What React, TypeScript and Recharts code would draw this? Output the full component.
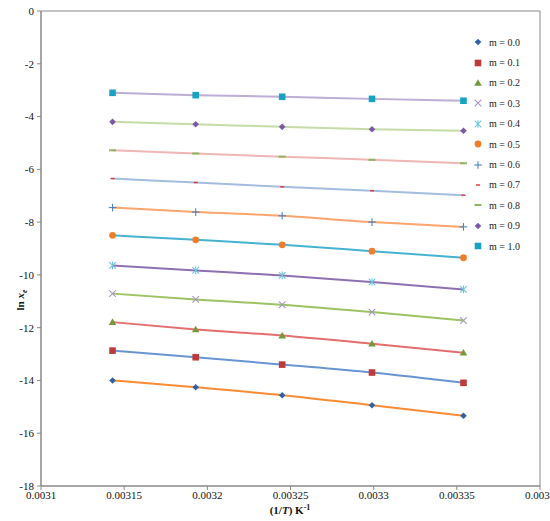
import React from "react";
import {
  LineChart,
  Line,
  XAxis,
  YAxis,
  ReferenceArea,
} from "recharts";

// 1/T values (K^-1) for 318.15 ... 298.15 K
const invT = [0.003143, 0.003193, 0.003245, 0.003299, 0.003354];

const m00 = [-14.0, -14.26, -14.56, -14.94, -15.34];
const m01 = [-12.87, -13.12, -13.4, -13.7, -14.09];
const m02 = [-11.79, -12.07, -12.3, -12.61, -12.95];
const m03 = [-10.71, -10.93, -11.13, -11.41, -11.73];
const m04 = [-9.64, -9.83, -10.02, -10.27, -10.55];
const m05 = [-8.5, -8.67, -8.86, -9.1, -9.35];
const m06 = [-7.45, -7.62, -7.76, -8.0, -8.18];
const m07 = [-6.35, -6.5, -6.66, -6.81, -6.98];
const m08 = [-5.28, -5.4, -5.52, -5.64, -5.77];
const m09 = [-4.2, -4.29, -4.39, -4.48, -4.54];
const m10 = [-3.1, -3.19, -3.25, -3.33, -3.4];

const seriesNames = [
  "m = 0.0",
  "m = 0.1",
  "m = 0.2",
  "m = 0.3",
  "m = 0.4",
  "m = 0.5",
  "m = 0.6",
  "m = 0.7",
  "m = 0.8",
  "m = 0.9",
  "m = 1.0",
];
const seriesValues = [m00, m01, m02, m03, m04, m05, m06, m07, m08, m09, m10];

const xTicks = [0.0031, 0.00315, 0.0032, 0.00325, 0.0033, 0.00335, 0.0034];
const yTicks = [-18, -16, -14, -12, -10, -8, -6, -4, -2, 0];

type Shape =
  | "diamond"
  | "square"
  | "triangle"
  | "x"
  | "asterisk"
  | "circle"
  | "plus"
  | "dashShort"
  | "dashLong";

const STYLES: { shape: Shape; marker: string; line: string }[] = [
  { shape: "diamond", marker: "#2f62a3", line: "#f88b33" },
  { shape: "square", marker: "#be3b3b", line: "#6895d0" },
  { shape: "triangle", marker: "#77983a", line: "#e46e6e" },
  { shape: "x", marker: "#a797c4", line: "#9cc261" },
  { shape: "asterisk", marker: "#6cc6db", line: "#8d70b2" },
  { shape: "circle", marker: "#ef7d2c", line: "#45b3cf" },
  { shape: "plus", marker: "#4f83c4", line: "#fba46b" },
  { shape: "dashShort", marker: "#e03c3c", line: "#a3bde0" },
  { shape: "dashLong", marker: "#8fb55a", line: "#efb6b6" },
  { shape: "diamond", marker: "#7a58a6", line: "#c6dca6" },
  { shape: "square", marker: "#17a3c2", line: "#bcaed4" },
];

const rows = invT.map((x, i) => {
  const row: Record<string, number> = { x };
  seriesValues.forEach((vals, s) => {
    row["s" + s] = vals[i];
  });
  return row;
});

const FONT = "'Liberation Serif', 'Times New Roman', serif";
const AXIS = "#888888";

function Marker({
  shape,
  color,
  cx,
  cy,
}: {
  shape: Shape;
  color: string;
  cx: number;
  cy: number;
}) {
  switch (shape) {
    case "diamond":
      return (
        <path
          d={`M${cx},${cy - 3.3}L${cx + 3.3},${cy}L${cx},${cy + 3.3}L${cx - 3.3},${cy}Z`}
          fill={color}
        />
      );
    case "square":
      return <rect x={cx - 3.3} y={cy - 3.3} width={6.6} height={6.6} fill={color} />;
    case "triangle":
      return (
        <path
          d={`M${cx},${cy - 3.8}L${cx + 3.8},${cy + 2.8}L${cx - 3.8},${cy + 2.8}Z`}
          fill={color}
        />
      );
    case "x":
      return (
        <g stroke={color} strokeWidth={1.1}>
          <line x1={cx - 3.3} y1={cy - 3.3} x2={cx + 3.3} y2={cy + 3.3} />
          <line x1={cx - 3.3} y1={cy + 3.3} x2={cx + 3.3} y2={cy - 3.3} />
        </g>
      );
    case "asterisk":
      return (
        <g stroke={color} strokeWidth={1.1}>
          <line x1={cx - 3.3} y1={cy - 3.3} x2={cx + 3.3} y2={cy + 3.3} />
          <line x1={cx - 3.3} y1={cy + 3.3} x2={cx + 3.3} y2={cy - 3.3} />
          <line x1={cx} y1={cy - 3.8} x2={cx} y2={cy + 3.8} />
        </g>
      );
    case "circle":
      return <circle cx={cx} cy={cy} r={3.4} fill={color} />;
    case "plus":
      return (
        <g stroke={color} strokeWidth={1.1}>
          <line x1={cx - 3.8} y1={cy} x2={cx + 3.8} y2={cy} />
          <line x1={cx} y1={cy - 3.8} x2={cx} y2={cy + 3.8} />
        </g>
      );
    case "dashShort":
      return (
        <line x1={cx - 2} y1={cy} x2={cx + 2} y2={cy} stroke={color} strokeWidth={1.5} />
      );
    case "dashLong":
      return (
        <line x1={cx - 3.5} y1={cy} x2={cx + 3.5} y2={cy} stroke={color} strokeWidth={2} />
      );
  }
  return null;
}

function SeriesLegend() {
  return (
    <div
      style={{
        position: "absolute",
        left: 473,
        top: 32,
        width: 70,
        fontFamily: FONT,
        fontSize: 10,
        color: "#222",
      }}
    >
      {seriesNames.map((name, i) => (
        <div
          key={name}
          style={{ height: 20.4, display: "flex", alignItems: "center" }}
        >
          <svg width={12} height={10} style={{ marginRight: 4 }}>
            <Marker shape={STYLES[i].shape} color={STYLES[i].marker} cx={5} cy={5} />
          </svg>
          <span>{name}</span>
        </div>
      ))}
    </div>
  );
}

export default function App() {
  return (
    <div
      style={{
        position: "absolute",
        left: 0,
        top: 0,
        width: 550,
        height: 521,
        overflow: "hidden",
        background: "#fff",
      }}
    >
      <LineChart
        width={550}
        height={521}
        data={rows}
        margin={{ top: 11, right: 10, bottom: 0, left: 0 }}
      >
        <ReferenceArea
          x1={0.0031}
          x2={0.0034}
          y1={-18}
          y2={0}
          fill="none"
          stroke={AXIS}
          strokeWidth={1}
        />
        <XAxis
          dataKey="x"
          type="number"
          domain={[0.0031, 0.0034]}
          ticks={xTicks}
          interval={0}
          height={35}
          tickSize={4}
          tickMargin={1}
          axisLine={{ stroke: AXIS }}
          tickLine={{ stroke: AXIS }}
          tick={{ fontFamily: FONT, fontSize: 11, fill: "#111" }}
          tickFormatter={(v: number) => String(v)}
          label={{
            position: "insideBottom",
            content: () => (
              <text
                x={290}
                y={514}
                textAnchor="middle"
                fontFamily={FONT}
                fontSize={11}
                fontWeight="bold"
                fill="#111"
              >
                (1/<tspan fontStyle="italic">T</tspan>) K
                <tspan dy={-4} fontSize={8}>
                  -1
                </tspan>
              </text>
            ),
          }}
        />
        <YAxis
          type="number"
          domain={[-18, 0]}
          ticks={yTicks}
          interval={0}
          width={41}
          tickSize={4}
          tickMargin={3}
          axisLine={{ stroke: AXIS }}
          tickLine={{ stroke: AXIS }}
          tick={{ fontFamily: FONT, fontSize: 11, fill: "#111" }}
          label={{
            position: "insideLeft",
            content: () => (
              <text
                x={0}
                y={0}
                transform="translate(24,300) rotate(-90)"
                textAnchor="middle"
                fontFamily={FONT}
                fontSize={11}
                fontWeight="bold"
                fill="#111"
              >
                ln <tspan fontStyle="italic">x</tspan>
                <tspan dy={3} fontSize={8} fontStyle="italic">
                  e
                </tspan>
              </text>
            ),
          }}
        />
        {seriesNames.map((name, i) => (
          <Line
            key={name}
            name={name}
            dataKey={"s" + i}
            type="monotone"
            stroke={STYLES[i].line}
            strokeWidth={2}
            isAnimationActive={false}
            activeDot={false}
            dot={(p: any) => (
              <Marker
                key={`${name}-${p.index}`}
                shape={STYLES[i].shape}
                color={STYLES[i].marker}
                cx={p.cx}
                cy={p.cy}
              />
            )}
          />
        ))}
      </LineChart>
      <SeriesLegend />
    </div>
  );
}
